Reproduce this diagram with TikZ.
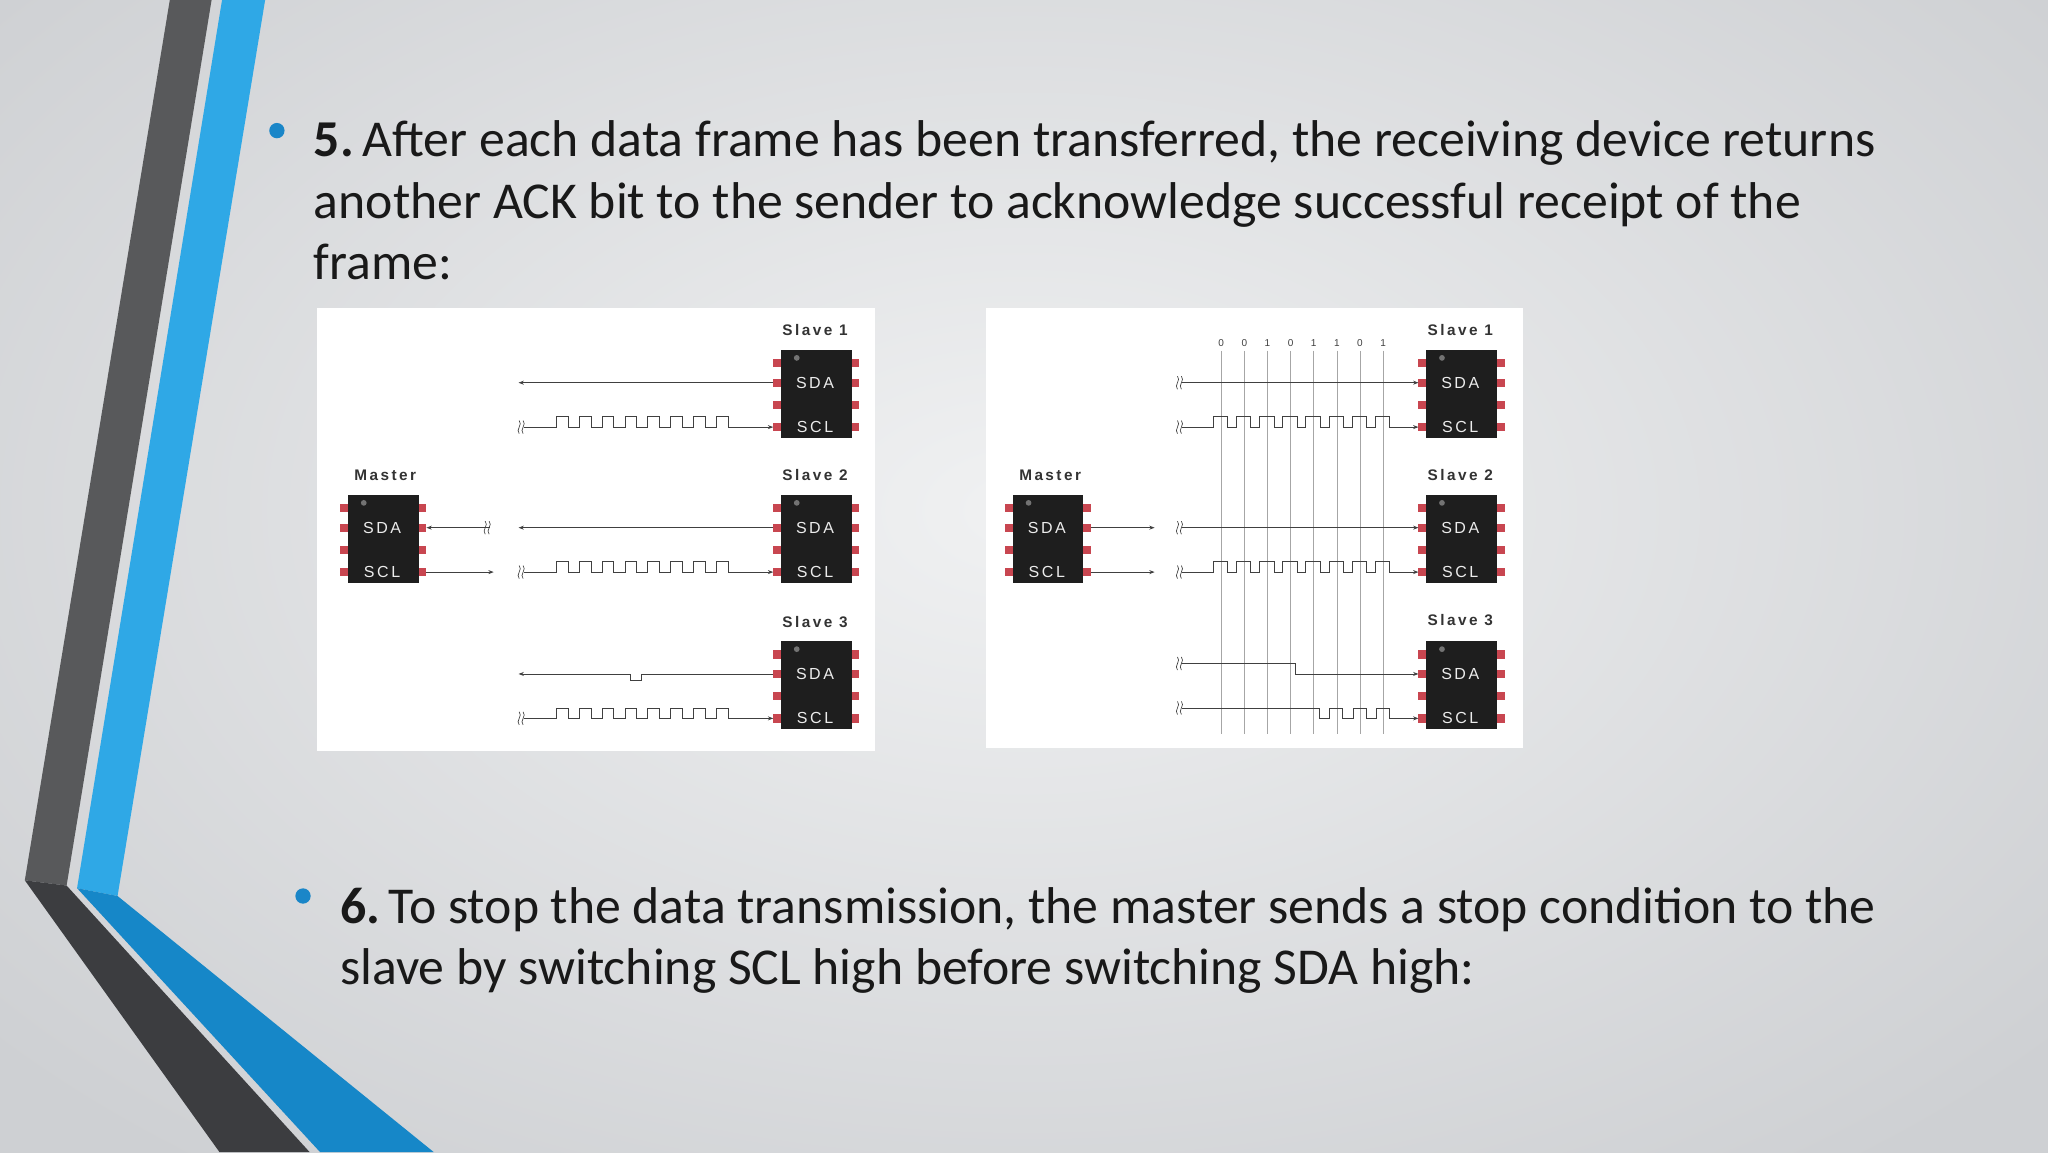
\documentclass[tikz,border=0pt]{standalone}
\usepackage{fontspec}
\setmainfont{Carlito}
\newfontfamily\lblfont[LetterSpace=16]{Liberation Sans}
\usetikzlibrary{arrows.meta}

\definecolor{bgmid}{RGB}{240,241,242}
\definecolor{bgedge}{RGB}{206,208,211}
\definecolor{barA}{RGB}{88,89,91}
\definecolor{barB}{RGB}{60,61,64}
\definecolor{blueA}{RGB}{47,168,230}
\definecolor{blueB}{RGB}{22,135,200}
\definecolor{bulletblue}{RGB}{26,134,200}
\definecolor{pinred}{RGB}{200,70,80}
\definecolor{chipgray}{RGB}{30,30,30}

\tikzset{every picture/.style={line width=0.75pt}}
\tikzset{
  chipbody/.style={fill=chipgray, draw=none, minimum width=52.9pt, minimum height=65.6pt, inner sep=0pt},
  chiplbl/.style={font=\lblfont\fontsize{12}{13}\selectfont, text=white!85!gray, inner sep=0.5pt},
  devlbl/.style={font=\lblfont\bfseries\fontsize{11.5}{12}\selectfont, text=black!80, inner sep=0.5pt},
  bitlbl/.style={font=\lblfont\fontsize{7.5}{8}\selectfont, text=black!75, inner sep=0.5pt},
  sig/.style={-{Stealth[length=4pt,width=3pt]}, line width=0.6pt, draw=black!75},
  grid/.style={line width=0.45pt, draw=black!35},
  bodytxt/.style={anchor=base west, inner sep=0pt, font=\fontsize{38.8}{44}\selectfont, text=black!90},
  bullet/.style={circle, fill=bulletblue, minimum size=11.5pt, inner sep=0pt}
}

% chip: name, x centre, y top
\newcommand{\chip}[3]{%
  \foreach \dy in {10,25,42,59}{
    \fill[pinred] (#2-33,#3+\dy-3.2) rectangle (#2-24,#3+\dy+3.2);
    \fill[pinred] (#2+24,#3+\dy-3.2) rectangle (#2+33,#3+\dy+3.2);
  }
  \node[chipbody] (#1) at (#2,#3+33.5) {};
  \fill[black!55] (#2-15,#3+6) circle (2.2);
  \node[chiplbl] (#1sda) at (#2-1,#3+25) {SDA};
  \node[chiplbl] (#1scl) at (#2-1,#3+59) {SCL};
  \coordinate (#1sdaL) at (#2-33,#3+25);
  \coordinate (#1sclL) at (#2-33,#3+59);
  \coordinate (#1sdaR) at (#2+33,#3+25);
  \coordinate (#1sclR) at (#2+33,#3+59);
}
% break mark
\newcommand{\brk}[2]{%
  \draw[line width=0.5pt, black!75] (#1-3.5,#2-5) .. controls (#1-0.5,#2-2) and (#1-6.5,#2+2) .. (#1-3.5,#2+5);
  \draw[line width=0.5pt, black!75] (#1-0.5,#2-5) .. controls (#1+2.5,#2-2) and (#1-3.5,#2+2) .. (#1-0.5,#2+5);
}

\begin{document}
\begin{tikzpicture}[x=0.9796pt,y=0.9796pt,yscale=-1,xscale=1]
\useasboundingbox (0,0) rectangle (1568,882);

% background
\shade[inner color=bgmid, outer color=bgedge] (-250,-250) rectangle (1818,1032);

% side bars
\fill[barA] (130,0) -- (162,0) -- (51,678) -- (19,674) -- cycle;
\fill[blueA] (170,0) -- (203,0) -- (90,686) -- (59,680) -- cycle;
\fill[barB] (19,674) -- (51,678) -- (237,882) -- (168,882) -- cycle;
\fill[blueB] (59,680) -- (90,686) -- (332,882) -- (245,882) -- cycle;

% bullet 5
\node[bullet] (b5) at (212,100) {};
\node[bodytxt] (t5a) at (240,120) {\textbf{5.}\,After each data frame has been transferred, the receiving device returns};
\node[bodytxt] (t5b) at (240,167) {another ACK bit to the sender to acknowledge successful receipt of the};
\node[bodytxt] (t5c) at (240,214) {frame:};

% bullet 6
\node[bullet] (b6) at (232,686) {};
\node[bodytxt] (t6a) at (260,707) {\textbf{6.}\,To stop the data transmission, the master sends a stop condition to the};
\node[bodytxt] (t6b) at (260,754) {slave by switching SCL high before switching SDA high:};

% left panel
\fill[white] (243,236) rectangle (670,575);
\node[devlbl] (lm) at (295,364) {Master};
\node[devlbl] (l1) at (624,253) {Slave 1};
\node[devlbl] (l2) at (624,364) {Slave 2};
\node[devlbl] (l3) at (624,476) {Slave 3};
\chip{lmc}{293.5}{379}
\chip{ls1}{625}{268}
\chip{ls2}{625}{379}
\chip{ls3}{625}{491}

\draw[sig] (ls1sdaL) -- (397,293);
\draw[sig] (ls2sdaL) -- (397,404);
\draw[sig] (ls3sdaL) -- (491,516) -- (491,521) -- (483,521) -- (483,516) -- (397,516);
\draw[sig] (375,404) -- (lmcsdaR);
\brk{375}{404}
\draw[sig] (lmcsclR) -- (378,438);
\foreach \yy/\cc in {327/ls1sclL, 438/ls2sclL, 550/ls3sclL}{
  \brk{401}{\yy}
  \draw[sig] (401,\yy) -- (426,\yy)
    \foreach \i in {0,...,7}{ -- ++(0,-8) -- ++(9,0) -- ++(0,8) -- ++(8.5,0)} -- (\cc);
}

% right panel
\fill[white] (755,236) rectangle (1166,573);
\foreach \b [count=\k from 0] in {0,0,1,0,1,1,0,1}{
  \node[bitlbl] (bit\k) at (935+17.7*\k,263) {\b};
  \draw[grid] (bit\k.south) ++(0,2) -- (935+17.7*\k,562);
}
\node[devlbl] (rm) at (804,364) {Master};
\node[devlbl] (r1) at (1118,253) {Slave 1};
\node[devlbl] (r2) at (1118,364) {Slave 2};
\node[devlbl] (r3) at (1118,475) {Slave 3};
\chip{rmc}{802.5}{379}
\chip{rs1}{1119}{268}
\chip{rs2}{1119}{379}
\chip{rs3}{1119}{491}

\draw[sig] (rmcsdaR) -- (884,404);
\draw[sig] (rmcsclR) -- (884,438);
\brk{905}{293}
\draw[sig] (905,293) -- (rs1sdaL);
\brk{905}{404}
\draw[sig] (905,404) -- (rs2sdaL);
\brk{905}{508}
\draw[sig] (905,508) -- (992,508) -- (992,516) -- (rs3sdaL);
\foreach \yy/\cc in {327/rs1sclL, 438/rs2sclL}{
  \brk{905}{\yy}
  \draw[sig] (905,\yy) -- (929,\yy)
    \foreach \i in {0,...,7}{ -- ++(0,-8) -- ++(11,0) -- ++(0,8) -- ++(6.7,0)} -- (\cc);
}
\brk{905}{542}
\draw[sig] (905,542) -- (1010,542) -- (1010,550)
  \foreach \i in {0,1,2}{ -- ++(8,0) -- ++(0,-8) -- ++(10,0) -- ++(0,8)} -- (rs3sclL);

\end{tikzpicture}
\end{document}
